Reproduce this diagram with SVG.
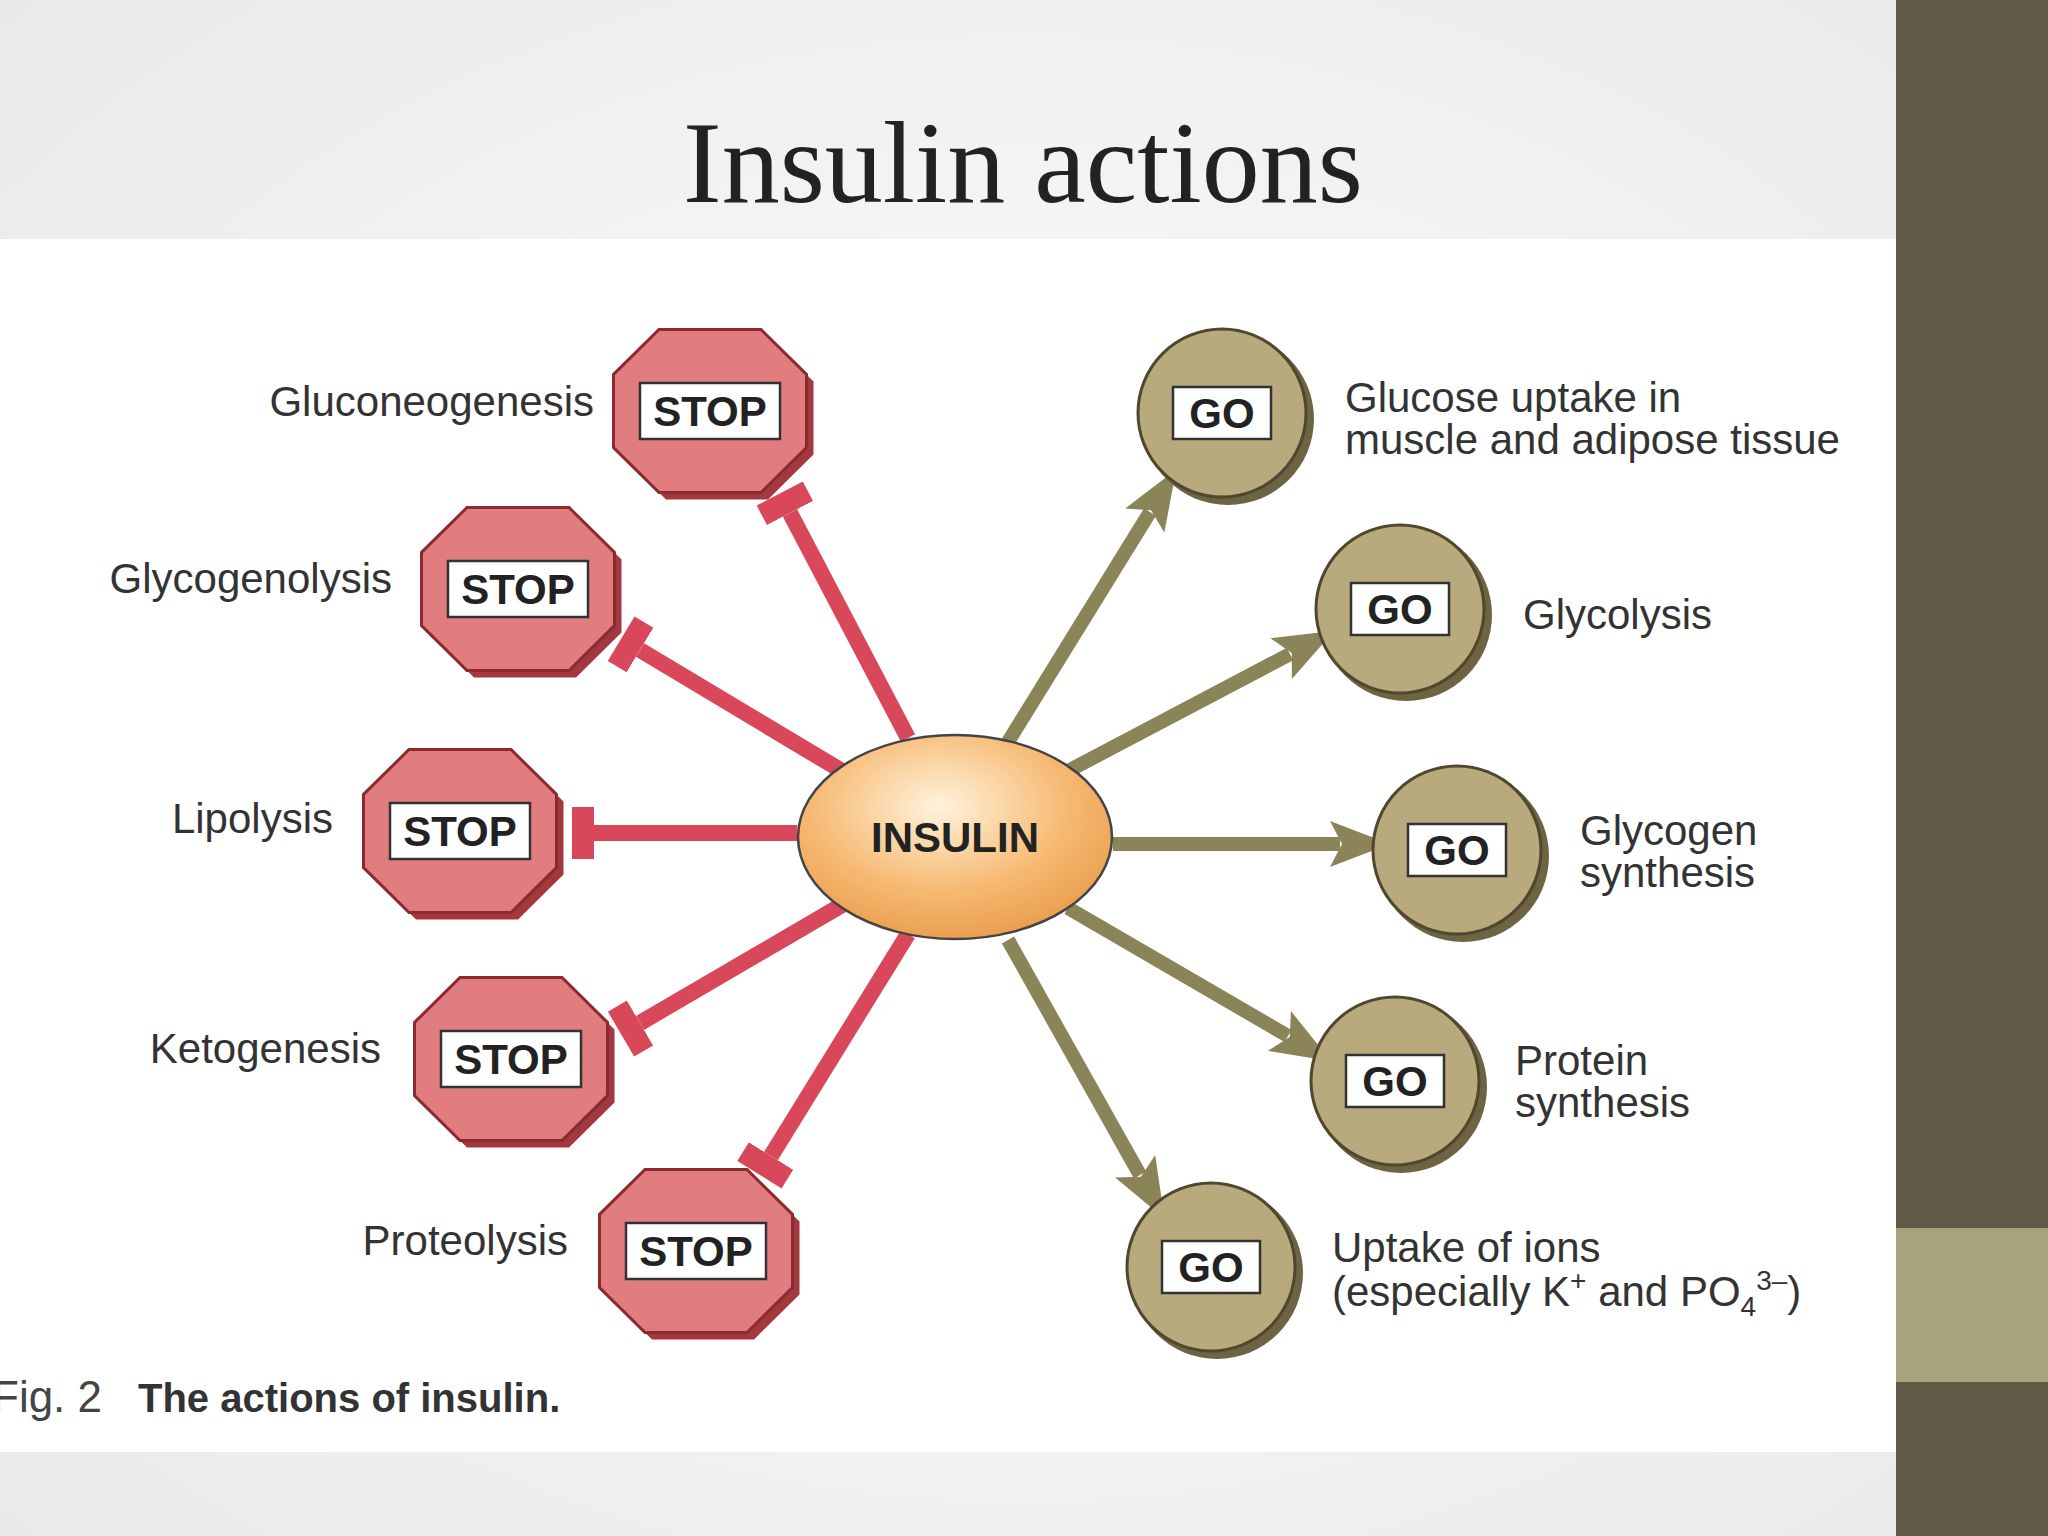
<svg xmlns="http://www.w3.org/2000/svg" width="2048" height="1536" viewBox="0 0 2048 1536">
<defs>
<radialGradient id="bg" cx="0.5" cy="0.5" r="0.8"><stop offset="0" stop-color="#ffffff"/><stop offset="1" stop-color="#e6e6e6"/></radialGradient>
<radialGradient id="ins" cx="0.45" cy="0.35" r="0.7"><stop offset="0" stop-color="#fff3dc"/><stop offset="0.6" stop-color="#f6b870"/><stop offset="1" stop-color="#e89a4a"/></radialGradient>
<polygon id="oct" points="-51,-81.5 51,-81.5 96.5,-36.5 96.5,36.5 51,81.5 -51,81.5 -96.5,36.5 -96.5,-36.5"/>
<marker id="tbar" markerUnits="userSpaceOnUse" markerWidth="30" markerHeight="60" refX="0" refY="30" orient="auto" viewBox="0 0 30 60"><rect x="0" y="4" width="22" height="52" fill="#d9485a"/></marker>
<marker id="arr" markerUnits="userSpaceOnUse" markerWidth="60" markerHeight="50" refX="10" refY="25" orient="auto" viewBox="0 0 60 50"><polygon points="0,2 60,25 0,48 12,25" fill="#8a8458"/></marker>
</defs>
<style>
.t{font-family:"Liberation Sans",Arial,sans-serif;font-size:42px;fill:#333}
.bx{fill:#fff;stroke:#333;stroke-width:2.5}
.bt{font-family:"Liberation Sans",Arial,sans-serif;font-size:42px;font-weight:bold;fill:#222;text-anchor:middle}
.stop use.s{fill:#a3383f}
.stop use.f{fill:#e17d7e;stroke:#8b2a30;stroke-width:3}
.go .s{fill:#6e6443}
.go .f{fill:#b8aa7c;stroke:#4f472e;stroke-width:3}
.inh{stroke:#d9485a;stroke-width:16;fill:none;marker-end:url(#tbar)}
.act{stroke:#8a8458;stroke-width:14;fill:none;marker-end:url(#arr)}
</style>
<rect width="2048" height="1536" fill="url(#bg)"/>
<rect x="1896" y="0" width="152" height="1536" fill="#5f5a45"/>
<rect x="1896" y="1228" width="152" height="154" fill="#a8a37c"/>
<text x="1023" y="202" text-anchor="middle" font-family="Liberation Serif,serif" font-size="116" fill="#222">Insulin actions</text>
<rect x="0" y="239" width="1896" height="1213" fill="#ffffff"/>
<g id="connectors">
<line class="inh" x1="908" y1="738" x2="790" y2="513"/>
<line class="inh" x1="842" y1="771" x2="640" y2="650"/>
<line class="inh" x1="797" y1="833" x2="594" y2="833"/>
<line class="inh" x1="842" y1="905" x2="640" y2="1023"/>
<line class="inh" x1="908" y1="934" x2="771" y2="1156"/>
<line class="act" x1="1008" y1="742" x2="1150" y2="512"/>
<line class="act" x1="1068" y1="771" x2="1290" y2="654"/>
<line class="act" x1="1113" y1="844" x2="1340" y2="844"/>
<line class="act" x1="1068" y1="908" x2="1288" y2="1036"/>
<line class="act" x1="1008" y1="940" x2="1140" y2="1175"/>
</g>
<g id="insulin"><ellipse cx="955" cy="837" rx="157" ry="102" fill="url(#ins)" stroke="#444" stroke-width="2.5"/><text class="bt" x="955" y="852">INSULIN</text></g>
<g id="stop1" class="stop" transform="translate(710,411)"><use class="s" href="#oct" x="7" y="7"/><use class="f" href="#oct"/><rect class="bx" x="-70" y="-28" width="140" height="56"/><text class="bt" y="15">STOP</text></g>
<g id="stop2" class="stop" transform="translate(518,589)"><use class="s" href="#oct" x="7" y="7"/><use class="f" href="#oct"/><rect class="bx" x="-70" y="-28" width="140" height="56"/><text class="bt" y="15">STOP</text></g>
<g id="stop3" class="stop" transform="translate(460,831)"><use class="s" href="#oct" x="7" y="7"/><use class="f" href="#oct"/><rect class="bx" x="-70" y="-28" width="140" height="56"/><text class="bt" y="15">STOP</text></g>
<g id="stop4" class="stop" transform="translate(511,1059)"><use class="s" href="#oct" x="7" y="7"/><use class="f" href="#oct"/><rect class="bx" x="-70" y="-28" width="140" height="56"/><text class="bt" y="15">STOP</text></g>
<g id="stop5" class="stop" transform="translate(696,1251)"><use class="s" href="#oct" x="7" y="7"/><use class="f" href="#oct"/><rect class="bx" x="-70" y="-28" width="140" height="56"/><text class="bt" y="15">STOP</text></g>
<g id="go1" class="go" transform="translate(1222,413)"><circle class="s" cx="6" cy="6" r="86"/><circle class="f" r="84"/><rect class="bx" x="-49" y="-26" width="98" height="52"/><text class="bt" y="15">GO</text></g>
<g id="go2" class="go" transform="translate(1400,609)"><circle class="s" cx="6" cy="6" r="86"/><circle class="f" r="84"/><rect class="bx" x="-49" y="-26" width="98" height="52"/><text class="bt" y="15">GO</text></g>
<g id="go3" class="go" transform="translate(1457,850)"><circle class="s" cx="6" cy="6" r="86"/><circle class="f" r="84"/><rect class="bx" x="-49" y="-26" width="98" height="52"/><text class="bt" y="15">GO</text></g>
<g id="go4" class="go" transform="translate(1395,1081)"><circle class="s" cx="6" cy="6" r="86"/><circle class="f" r="84"/><rect class="bx" x="-49" y="-26" width="98" height="52"/><text class="bt" y="15">GO</text></g>
<g id="go5" class="go" transform="translate(1211,1267)"><circle class="s" cx="6" cy="6" r="86"/><circle class="f" r="84"/><rect class="bx" x="-49" y="-26" width="98" height="52"/><text class="bt" y="15">GO</text></g>
<g id="labels">
<text class="t" x="594" y="416" text-anchor="end">Gluconeogenesis</text>
<text class="t" x="392" y="593" text-anchor="end">Glycogenolysis</text>
<text class="t" x="333" y="833" text-anchor="end">Lipolysis</text>
<text class="t" x="381" y="1063" text-anchor="end">Ketogenesis</text>
<text class="t" x="568" y="1255" text-anchor="end">Proteolysis</text>
<text class="t" x="1345" y="412">Glucose uptake in</text>
<text class="t" x="1345" y="454">muscle and adipose tissue</text>
<text class="t" x="1523" y="629">Glycolysis</text>
<text class="t" x="1580" y="845">Glycogen</text>
<text class="t" x="1580" y="887">synthesis</text>
<text class="t" x="1515" y="1075">Protein</text>
<text class="t" x="1515" y="1117">synthesis</text>
<text class="t" x="1332" y="1262">Uptake of ions</text>
<text class="t" x="1332" y="1306">(especially K<tspan font-size="28" dy="-16">+</tspan><tspan dy="16"> and PO</tspan><tspan font-size="28" dy="10">4</tspan><tspan font-size="28" dy="-26">3–</tspan><tspan dy="16">)</tspan></text>
<text x="-8" y="1412" font-family="Liberation Sans,Arial,sans-serif" font-size="44" fill="#444">Fig. 2</text>
<text x="138" y="1412" font-family="Liberation Sans,Arial,sans-serif" font-size="40" font-weight="bold" fill="#333">The actions of insulin.</text>
</g>
</svg>
